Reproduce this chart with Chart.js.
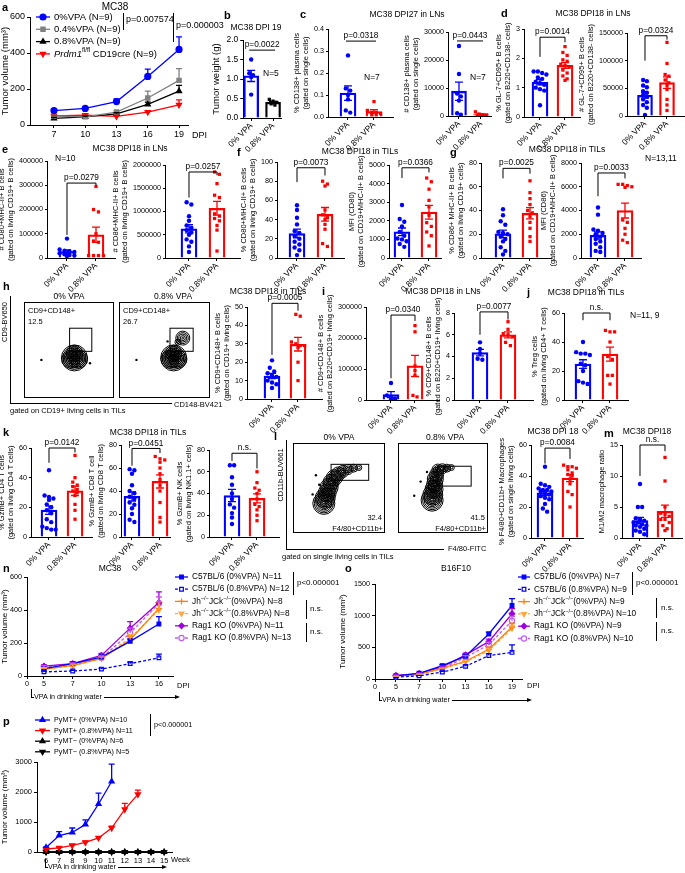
<!DOCTYPE html>
<html>
<head>
<meta charset="utf-8">
<script src="https://cdn.jsdelivr.net/npm/chart.js@4.4.1/dist/chart.umd.min.js"></script>
<style>
  body { margin: 0; background: #fff; }
  #page { position: relative; width: 685px; height: 873px; overflow: hidden; font-family: Arial, "Liberation Sans", Helvetica, sans-serif; color: #000; }
  .t { position: absolute; white-space: nowrap; line-height: 1; }
  canvas { position: absolute; }
  .ln { position: absolute; background: #000; }
  .box { position: absolute; border: 1px solid #000; box-sizing: border-box; }
</style>
</head>
<body>
<div id="page"></div>
<script>
// ---------- data ----------
const GROUPS = ['0% VPA', '0.8% VPA'];

// a: MC38 growth
const aDays = [7, 10, 13, 16, 19];
const aTicks = [0, 200, 400, 600];
const aVpa0 = [80, 92, 130, 270, 420], aVpa0Sem = [8, 8, 15, 40, 70];
const aVpa04 = [50, 45, 72, 150, 248], aVpa04Sem = [6, 6, 8, 38, 65];
const aVpa08 = [37, 45, 62, 115, 188], aVpa08Sem = [5, 5, 6, 12, 32];
const aPrdm1 = [50, 55, 48, 72, 112], aPrdm1Sem = [5, 6, 5, 8, 28];

// dot plots (0% VPA / 0.8% VPA)
const bWeight0 = [1.5, 1.15, 1.1, 1.05, 0.6];
const bWeight8 = [0.48, 0.43, 0.40, 0.36, 0.33];
const cPct0 = [0.28, 0.13, 0.12, 0.10, 0.08, 0.03, 0.02];
const cPct8 = [0.07, 0.03, 0.02, 0.02, 0.015, 0.01, 0.01];
const cNum0 = [25000, 15000, 8000, 7000, 5500, 1000, 500];
const cNum8 = [1500, 700, 500, 400, 300, 200, 100];
const dPct0 = [1.55, 1.55, 1.5, 1.45, 1.35, 1.3, 1.2, 1.15, 1.1, 1.0, 0.95, 0.9, 0.4];
const dPct8 = [2.4, 2.2, 2.1, 1.95, 1.9, 1.8, 1.75, 1.7, 1.6, 1.5, 1.4, 1.3, 1.25];
const dNum0 = [65000, 63000, 55000, 52000, 45000, 42000, 38000, 35000, 30000, 25000, 20000, 15000, 2000];
const dNum8 = [133000, 95000, 75000, 72000, 65000, 60000, 55000, 48000, 30000, 20000, 10000];
const eCd80_0 = [80000, 35000, 30000, 28000, 25000, 20000, 15000, 12000, 10000, 8000];
const eCd80_8 = [295000, 200000, 190000, 100000, 70000, 65000, 10000, 10000, 10000, 10000];
const eCd86_0 = [1200000, 1150000, 900000, 800000, 700000, 650000, 600000, 550000, 500000, 400000, 350000, 250000, 130000];
const eCd86_8 = [1850000, 1800000, 1600000, 1350000, 1300000, 950000, 900000, 850000, 800000, 700000, 600000, 150000];
const fPct0 = [55, 50, 42, 35, 28, 26, 23, 20, 17, 14, 11, 8, 3];
const fPct8 = [80, 77, 75, 50, 45, 42, 40, 35, 30, 15, 12];
const fMfi0 = [2850, 2100, 1950, 1700, 1400, 1200, 1050, 1000, 900, 750, 600];
const fMfi8 = [4300, 4100, 3700, 3100, 2750, 2300, 1900, 1700, 1400, 1200, 650];
const gPct0 = [41, 36, 31, 28, 22, 21, 20, 18, 16, 14, 9, 6, 3];
const gPct8 = [65, 55, 50, 45, 40, 38, 35, 30, 25, 18, 14];
const gMfi0 = [4250, 3650, 2400, 2300, 2100, 2000, 1800, 1600, 1400, 1200, 900, 600, 500];
const gMfi8 = [6200, 6200, 6100, 6000, 5950, 3200, 3000, 2500, 2000, 1500, 1300];
const hPct0 = [21, 17, 15, 14, 13, 12, 10, 9, 8, 6];
const hPct8 = [46, 45, 31, 30, 29, 29, 28, 20, 10];
const iNum0 = [55000, 15000, 10000, 5000, 2000];
const iNum8 = [240000, 220000, 110000, 95000, 80000, 15000, 10000];
const iPct0 = [5.3, 4.7, 4.3, 3.8, 3.7];
const iPct8 = [7.2, 6.5, 6.1, 6.0, 5.8, 5.3, 5.0];
const jTreg0 = [40, 33, 32, 32, 31, 25, 24, 20, 13, 12, 11];
const jTreg8 = [48, 47, 47, 40, 30, 28, 17, 17, 11];
const kCd4_0 = [45, 28, 27, 26, 25, 22, 20, 18, 16, 12, 10, 7, 6, 5, 5];
const kCd4_8 = [55, 40, 37, 35, 34, 32, 31, 30, 28, 22, 18, 12];
const kCd8_0 = [59, 58, 55, 45, 40, 38, 35, 33, 30, 28, 25, 20, 15, 13];
const kCd8_8 = [70, 68, 67, 65, 60, 55, 50, 45, 40, 30, 17, 13];
const kNk0 = [66, 66, 55, 48, 40, 35, 30, 27, 22, 18, 12];
const kNk8 = [60, 50, 45, 43, 40, 35, 30, 28, 25, 20, 15];
const lMac0 = [46, 35, 34, 33, 32, 31, 31, 30, 30, 29, 28, 27, 26, 25, 22, 19, 17];
const lMac8 = [47, 46, 46, 45, 44, 42, 41, 40, 38, 35, 30, 28, 20];
const mRatio0 = [8.7, 5, 5, 3.2, 3, 2.8, 2.5, 2.5, 2.2, 2, 2, 1.8, 1.5, 1.2, 1, 0.6];
const mRatio8 = [13, 9.2, 5, 4, 3.8, 3.5, 3, 3, 2.5, 2, 1.5, 1.2];

// n: MC38 in knockouts
const nDays = [5, 7, 10, 13, 16];
const nTicks = [0, 200, 400, 600];
const nB6_0 = [45, 75, 115, 210, 315], nB6_0Sem = [8, 10, 12, 15, 45];
const nB6_8 = [25, 30, 42, 75, 110], nB6_8Sem = [5, 5, 6, 10, 22];
const nJh_0 = [40, 65, 105, 220, 410], nJh_0Sem = [6, 8, 10, 20, 40];
const nJh_8 = [45, 60, 110, 230, 400], nJh_8Sem = [6, 8, 10, 20, 80];
const nRag_0 = [60, 75, 125, 290, 445], nRag_0Sem = [8, 8, 12, 40, 65];
const nRag_8 = [55, 70, 110, 260, 440], nRag_8Sem = [8, 8, 10, 30, 40];

// o: B16F10
const oDays = [5, 7, 10, 13, 16, 19];
const oTicks = [0, 500, 1000, 1500];
const oB6_0 = [50, 90, 210, 360, 710, 1160], oB6_0Sem = [8, 10, 20, 30, 30, 110];
const oB6_8 = [30, 50, 110, 200, 370, 420], oB6_8Sem = [5, 8, 12, 20, 30, 120];
const oJh_0 = [45, 75, 170, 280, 470, 820], oJh_0Sem = [6, 8, 15, 20, 30, 60];
const oJh_8 = [40, 70, 160, 270, 450, 800], oJh_8Sem = [6, 8, 15, 20, 30, 50];
const oRag_0 = [55, 85, 190, 380, 590, 1030], oRag_0Sem = [8, 10, 15, 30, 40, 80];
const oRag_8 = [50, 80, 170, 340, 540, 920], oRag_8Sem = [8, 10, 15, 30, 40, 70];

// p: PyMT
const pWeeks = [6, 7, 8, 9, 10, 11, 12, 13, 14, 15];
const pTicks = [0, 1000, 2000, 3000];
const pPos0 = [150, 550, 650, 920, 1600, 2350], pPos0Sem = [20, 130, 150, 150, 360, 580];
const pPos8 = [100, 140, 220, 320, 470, 800, 1420, 1920], pPos8Sem = [10, 20, 30, 40, 40, 60, 200, 140];
const pNeg0 = [0, 0, 0, 0, 0, 0, 0, 0, 0, 0];
const pNeg8 = [0, 0, 0, 0, 0, 0, 0, 0, 0, 0];

// flow contour blobs (x, y in % of plot, r = outer contour radius)
const hBlobs0 = [{ x: 59, y: 38, r: 13 }, { x: 53, y: 36, r: 9 }, { x: 66, y: 36, r: 9 }, { x: 59, y: 45, r: 8 }];
const hDots0 = [{ x: 85, y: 30 }, { x: 4, y: 35 }];
const hBlobs8 = [{ x: 65, y: 38, r: 13 }, { x: 59, y: 36, r: 9 }, { x: 72, y: 36, r: 9 }, { x: 65, y: 45, r: 8 }, { x: 80, y: 68, r: 7 }, { x: 72, y: 62, r: 3 }];
const hDots8 = [{ x: 55, y: 63 }, { x: 4, y: 35 }];
const lBlobs0 = [{ x: 27, y: 26, r: 11 }, { x: 29, y: 34, r: 10 }, { x: 32, y: 42, r: 9 }, { x: 35, y: 51, r: 9 }, { x: 38, y: 59, r: 8 }, { x: 43, y: 66, r: 8 }, { x: 49, y: 72, r: 7 }, { x: 56, y: 76, r: 6 }, { x: 64, y: 79, r: 5 }, { x: 72, y: 81, r: 4 }, { x: 80, y: 82, r: 3 }];
const lDots0 = [{ x: 10, y: 40 }, { x: 15, y: 70 }, { x: 20, y: 55 }];
const lBlobs8 = [{ x: 33, y: 31, r: 11 }, { x: 34, y: 39, r: 10 }, { x: 36, y: 48, r: 9 }, { x: 37, y: 56, r: 8 }, { x: 38, y: 64, r: 8 }, { x: 40, y: 71, r: 7 }, { x: 42, y: 78, r: 6 }, { x: 49, y: 80, r: 5 }, { x: 56, y: 81, r: 4 }, { x: 63, y: 82, r: 3 }];
const lDots8 = [{ x: 5, y: 38 }, { x: 15, y: 60 }, { x: 25, y: 75 }];

// ---------- setup ----------
const FONT = 'Arial, "Liberation Sans", Helvetica, sans-serif';
const BLUE = '#0000ff', RED = '#ff0000', BLACK = '#000000', GRAY = '#808080';
const ORANGE = '#ff8000', LORANGE = '#ffa640', PURPLE = '#a000e0', LPURPLE = '#c35cf5';
Chart.defaults.font.family = FONT;
Chart.defaults.font.size = 7.2;
Chart.defaults.color = '#000';
Chart.defaults.animation = false;
Chart.defaults.responsive = false;
Chart.defaults.plugins.legend.display = false;
Chart.defaults.plugins.tooltip.enabled = false;

const page = document.getElementById('page');
const mctx = document.createElement('canvas').getContext('2d');
function measure(s, size) { mctx.font = size + 'px ' + FONT; return mctx.measureText(s).width; }

function canvasAt(x, y, w, h) {
  const c = document.createElement('canvas');
  c.width = Math.round(w); c.height = Math.round(h);
  c.style.left = Math.round(x) + 'px'; c.style.top = Math.round(y) + 'px';
  page.appendChild(c);
  return c;
}
function txt(html, x, y, o = {}) {
  const d = document.createElement('div');
  d.className = 't';
  d.innerHTML = html;
  d.style.left = x + 'px'; d.style.top = y + 'px';
  d.style.fontSize = (o.size || 8.5) + 'px';
  if (o.bold) d.style.fontWeight = 'bold';
  const ax = o.anchor === 'c' ? '-50%' : o.anchor === 'r' ? '-100%' : '0';
  d.style.transform = `translate(${ax},-50%)` + (o.rot ? ` rotate(${o.rot}deg)` : '');
  page.appendChild(d);
}
function line(x, y, w, h) {
  const d = document.createElement('div');
  d.className = 'ln';
  Object.assign(d.style, { left: x + 'px', top: y + 'px', width: w + 'px', height: h + 'px' });
  page.appendChild(d);
}
function mean(a) { return a.reduce((s, v) => s + v, 0) / a.length; }
function sem(a) { const m = mean(a); return Math.sqrt(a.reduce((s, v) => s + (v - m) ** 2, 0) / (a.length - 1) / a.length); }

// spread dots with similar values sideways so they don't sit on top of each other
function spread(vals, g, span) {
  const tol = span * 0.04, pts = [];
  let row = [];
  const flush = () => { row.forEach((v, k) => pts.push({ x: g + (k - (row.length - 1) / 2) * 0.17, y: v })); row = []; };
  vals.slice().sort((a, b) => b - a).forEach(v => {
    if (row.length && (row[0] - v > tol || row.length >= 4)) flush();
    row.push(v);
  });
  flush();
  return pts;
}

function drawRich(ctx, parts, x, y, size) {
  ctx.textBaseline = 'middle'; ctx.textAlign = 'left';
  parts.forEach(pt => {
    const o = typeof pt === 'string' ? { t: pt } : pt;
    const fs = o.s ? size * 0.68 : size;
    ctx.font = (o.i ? 'italic ' : '') + fs + 'px ' + FONT;
    ctx.fillText(o.t, x, o.s ? y - size * 0.35 : y);
    x += ctx.measureText(o.t).width;
  });
}

// ---------- plugins ----------
const errorBars = {
  id: 'errorBars',
  afterDatasetsDraw(chart) {
    const ctx = chart.ctx, ys = chart.scales.y;
    chart.data.datasets.forEach((ds, i) => {
      if (!ds.sem) return;
      const meta = chart.getDatasetMeta(i);
      meta.data.forEach((el, j) => {
        const s = ds.sem[j];
        if (!s) return;
        const v = ds.data[j].y;
        const col = Array.isArray(ds.borderColor) ? ds.borderColor[j] : ds.borderColor;
        const yt = ys.getPixelForValue(v + s);
        const yb = ds.errDown ? ys.getPixelForValue(Math.max(v - s, 0)) : el.y;
        const cap = ds.cap || 3;
        ctx.save();
        ctx.strokeStyle = col; ctx.lineWidth = 1.3; ctx.setLineDash([]);
        ctx.beginPath();
        ctx.moveTo(el.x, yb); ctx.lineTo(el.x, yt);
        ctx.moveTo(el.x - cap, yt); ctx.lineTo(el.x + cap, yt);
        if (ds.errDown) { ctx.moveTo(el.x - cap, yb); ctx.lineTo(el.x + cap, yb); }
        ctx.stroke();
        ctx.restore();
      });
    });
  }
};

const bracket = {
  id: 'bracket',
  afterDraw(chart, args, o) {
    if (!o || o.text === undefined) return;
    const ctx = chart.ctx, xs = chart.scales.x, ys = chart.scales.y;
    const x0 = xs.getPixelForValue(0), x1 = xs.getPixelForValue(1), yb = ys.getPixelForValue(o.y);
    ctx.save();
    ctx.strokeStyle = '#000'; ctx.lineWidth = 1;
    ctx.beginPath();
    if (o.ends) {
      ctx.moveTo(x0, ys.getPixelForValue(o.ends[0])); ctx.lineTo(x0, yb);
      ctx.lineTo(x1, yb); ctx.lineTo(x1, ys.getPixelForValue(o.ends[1]));
    } else {
      ctx.moveTo(x0 - 2, yb); ctx.lineTo(x1 + 2, yb);
    }
    ctx.stroke();
    ctx.fillStyle = '#000';
    ctx.font = (o.size || 8.3) + 'px ' + FONT;
    ctx.textAlign = 'center'; ctx.textBaseline = 'bottom';
    ctx.fillText(o.text, (x0 + x1) / 2, yb - 1);
    ctx.restore();
  }
};

const lineLegend = {
  id: 'lineLegend',
  afterDraw(chart, args, o) {
    if (!o || o.x === undefined) return;
    const ctx = chart.ctx;
    chart.data.datasets.forEach((ds, i) => {
      const y = o.y + i * o.dy, x = o.x;
      ctx.save();
      ctx.strokeStyle = ds.borderColor; ctx.lineWidth = 1.3;
      ctx.setLineDash(ds.borderDash || []);
      ctx.beginPath(); ctx.moveTo(x, y); ctx.lineTo(x + o.len, y); ctx.stroke();
      ctx.setLineDash([]);
      ctx.fillStyle = ds.pointBackgroundColor; ctx.lineWidth = ds.pointBorderWidth;
      Chart.helpers.drawPoint(ctx, { pointStyle: ds.pointStyle, rotation: ds.pointRotation, radius: ds.pointRadius, borderWidth: ds.pointBorderWidth }, x + o.len / 2, y);
      ctx.fillStyle = '#000';
      drawRich(ctx, ds.parts, x + o.len + 4, y, o.size);
      ctx.restore();
    });
  }
};

const gatePlugin = {
  id: 'gate',
  afterDraw(chart, args, o) {
    if (!o || o.x0 === undefined) return;
    const xs = chart.scales.x, ys = chart.scales.y, ctx = chart.ctx;
    const x0 = xs.getPixelForValue(o.x0), x1 = xs.getPixelForValue(o.x1);
    const y0 = ys.getPixelForValue(o.y0), y1 = ys.getPixelForValue(o.y1);
    ctx.save(); ctx.strokeStyle = '#000'; ctx.lineWidth = 1;
    ctx.strokeRect(x0, y1, x1 - x0, y0 - y1);
    ctx.restore();
  }
};

const axisGrid = { drawOnChartArea: false, drawTicks: true, tickLength: 3, color: '#000', lineWidth: 1 };
const axisBorder = { color: '#000', width: 1 };

// ---------- builders ----------
function barPanel(p) {
  const TICK = p.tf || 7.2, TITLE = p.lf || 7.5, XLAB = 8.3;
  const unit = p.c1 - p.c0, side = (p.c0 - p.ax) / unit;
  const xmin = -side, xmax = 1 + side;
  const plotW = unit * (xmax - xmin), plotH = p.bot - p.top;
  const ymax = p.ticks[p.ticks.length - 1];
  const fmt = v => p.dec ? v.toFixed(p.dec) : String(v);
  const tickW = Math.max(...p.ticks.map(t => measure(fmt(t), TICK)));
  const L = p.ylab.length * TITLE * 1.2 + tickW + 9;
  const T = 34, B = 44, R = 10;
  const cv = canvasAt(p.ax - L, p.top - T, L + plotW + R, T + plotH + B);
  const cols = [BLUE, p.col1 || RED];
  new Chart(cv, {
    type: 'bar',
    data: {
      datasets: [
        { type: 'scatter', data: spread(p.d0, 0, ymax), pointStyle: 'circle', pointRadius: 2.2, backgroundColor: cols[0], borderWidth: 0, order: 0 },
        { type: 'scatter', data: spread(p.d1, 1, ymax), pointStyle: 'rect', pointRadius: 2.3, backgroundColor: cols[1], borderWidth: 0, order: 0 },
        {
          type: 'bar', data: [{ x: 0, y: mean(p.d0) }, { x: 1, y: mean(p.d1) }],
          sem: [sem(p.d0), sem(p.d1)], errDown: true, cap: 4,
          backgroundColor: 'rgba(255,255,255,0)', borderColor: cols, borderWidth: 1.6,
          barThickness: p.bw || 16, order: 1
        }
      ]
    },
    options: {
      devicePixelRatio: 1,
      layout: { padding: { top: T, right: R, left: 0, bottom: 0 } },
      scales: {
        x: {
          type: 'linear', min: xmin, max: xmax, offset: false,
          afterBuildTicks: s => { s.ticks = [{ value: 0 }, { value: 1 }]; },
          afterFit: s => { s.height = B; },
          ticks: { autoSkip: false, minRotation: 45, maxRotation: 45, padding: 0, font: { size: XLAB }, callback: v => GROUPS[v] },
          grid: { ...axisGrid, offset: false }, border: axisBorder
        },
        y: {
          min: 0, max: ymax,
          afterBuildTicks: s => { s.ticks = p.ticks.map(v => ({ value: v })); },
          afterFit: s => { s.width = L; },
          ticks: { autoSkip: false, padding: 2, font: { size: TICK }, callback: v => fmt(v) },
          title: { display: true, text: p.ylab, font: { size: TITLE }, padding: { top: 0, bottom: 1 } },
          grid: axisGrid, border: axisBorder
        }
      },
      plugins: { bracket: p.br }
    },
    plugins: [errorBars, bracket]
  });
}

function lineChart(p) {
  const cv = canvasAt(p.x, p.y, p.w, p.h);
  const L = p.ax - p.x, T = p.top - p.y, B = p.y + p.h - p.bot, R = p.x + p.w - p.right;
  new Chart(cv, {
    type: 'line',
    data: {
      datasets: p.sets.map(s => ({
        data: s.data.map((v, i) => ({ x: p.xs[i], y: v })),
        sem: s.sem, parts: s.parts,
        borderColor: s.color, backgroundColor: s.fill || s.color,
        pointBackgroundColor: s.fill || s.color, pointBorderColor: s.color,
        pointStyle: s.style, pointRotation: s.rot || 0, pointRadius: s.r || 3, pointBorderWidth: 1.2,
        borderWidth: 1.3, borderDash: s.dash ? [3, 2] : [], tension: 0, clip: false
      }))
    },
    options: {
      devicePixelRatio: 1,
      layout: { padding: { top: T, right: R, left: 0, bottom: 0 } },
      scales: {
        x: {
          type: 'linear', min: p.xmin, max: p.xmax, offset: false,
          afterBuildTicks: s => { s.ticks = p.xTicks.map(v => ({ value: v })); },
          afterFit: s => { s.height = B; },
          ticks: { autoSkip: false, minRotation: 0, maxRotation: 0, padding: 1, font: { size: p.tick }, callback: (v, i) => p.xLabels[i] },
          grid: axisGrid, border: axisBorder
        },
        y: {
          min: 0, max: p.yTicks[p.yTicks.length - 1],
          afterBuildTicks: s => { s.ticks = p.yTicks.map(v => ({ value: v })); },
          afterFit: s => { s.width = L; },
          ticks: { autoSkip: false, padding: 2, font: { size: p.tick }, callback: v => String(v) },
          title: { display: true, text: p.ylab, font: { size: p.lab }, padding: { top: 0, bottom: 2 } },
          grid: axisGrid, border: axisBorder
        }
      },
      plugins: { lineLegend: p.legend }
    },
    plugins: [errorBars, lineLegend]
  });
}

function flowPlot(p) {
  const box = document.createElement('div');
  box.className = 'box';
  Object.assign(box.style, { left: p.x + 'px', top: p.y + 'px', width: p.w + 'px', height: p.h + 'px' });
  page.appendChild(box);
  const cv = canvasAt(p.x + 1, p.y + 1, p.w - 2, p.h - 2);
  const rings = [];
  p.blobs.forEach(b => { for (let r = b.r; r >= 1; r -= 1.5) rings.push({ x: b.x, y: b.y, r }); });
  new Chart(cv, {
    type: 'bubble',
    data: {
      datasets: [
        { data: rings, backgroundColor: 'rgba(0,0,0,0)', borderColor: '#000', borderWidth: 1 },
        { data: p.dots.map(d => ({ x: d.x, y: d.y, r: 1.2 })), backgroundColor: '#000', borderWidth: 0 }
      ]
    },
    options: {
      devicePixelRatio: 1,
      layout: { padding: 0 },
      scales: { x: { display: false, min: 0, max: 100 }, y: { display: false, min: 0, max: 100 } },
      plugins: { gate: p.gate }
    },
    plugins: [gatePlugin]
  });
}

function vpaArrow(x, y, x2) {
  line(x, y - 8, 1, 8);
  line(x, y, 3, 1);
  txt('VPA in drinking water', x + 3, y, { size: 7.2 });
  const tw = measure('VPA in drinking water', 7.2);
  line(x + 5 + tw, y, x2 - (x + 5 + tw), 1);
  const a = document.createElement('div');
  Object.assign(a.style, { position: 'absolute', left: (x2 - 1) + 'px', top: (y - 2) + 'px', width: 0, height: 0, borderTop: '2.5px solid transparent', borderBottom: '2.5px solid transparent', borderLeft: '5px solid #000' });
  page.appendChild(a);
}

// ---------- panel a ----------
lineChart({
  x: 0, y: 0, w: 222, h: 145, ax: 30, top: 17, bot: 125, right: 188,
  xmin: 4.7, xmax: 19.86, xs: aDays, xTicks: aDays, xLabels: aDays.map(String),
  yTicks: aTicks, ylab: 'Tumor volume (mm³)', tick: 9, lab: 9.5,
  legend: { x: 36, y: 17, dy: 12.3, len: 14, size: 9.5 },
  sets: [
    { parts: ['0%VPA (N=9)'], data: aVpa0, sem: aVpa0Sem, color: BLUE, style: 'circle' },
    { parts: ['0.4%VPA (N=9)'], data: aVpa04, sem: aVpa04Sem, color: GRAY, style: 'rect' },
    { parts: ['0.8%VPA (N=9)'], data: aVpa08, sem: aVpa08Sem, color: BLACK, style: 'triangle' },
    { parts: [{ t: 'Prdm1', i: true }, { t: 'fl/fl', s: true }, ' CD19cre (N=9)'], data: aPrdm1, sem: aPrdm1Sem, color: RED, style: 'triangle', rot: 180 }
  ]
});
txt('DPI', 192, 135, { size: 9 });
line(123, 13, 1, 17); txt('p=0.007574', 126, 19, { size: 9 });
line(173, 13, 1, 29); txt('p=0.000003', 176, 25, { size: 9 });

// ---------- dot plots ----------
barPanel({ ax: 243, c0: 251, c1: 273, top: 40, bot: 118, ticks: [0, 0.5, 1, 1.5, 2], dec: 1, tf: 8.5, lf: 9.5, ylab: ['Tumor weight (g)'], d0: bWeight0, d1: bWeight8, col1: BLACK, bw: 15, br: { y: 1.74, text: 'p=0.0022' } });
barPanel({ ax: 329, c0: 348, c1: 374, top: 29, bot: 117, ticks: [0, 0.1, 0.2, 0.3, 0.4], dec: 1, ylab: ['% CD138+ plasma cells', '(gated on single cells)'], d0: cPct0, d1: cPct8, br: { y: 0.345, text: 'p=0.0318' } });
barPanel({ ax: 449, c0: 459, c1: 481, top: 32, bot: 116, ticks: [0, 10000, 20000, 30000], ylab: ['# CD138+ plasma cells', '(gated on single cells)'], d0: cNum0, d1: cNum8, bw: 15, br: { y: 26800, text: 'p=0.0443' } });
barPanel({ ax: 525, c0: 540, c1: 565, top: 29, bot: 117, ticks: [0, 1, 2, 3], ylab: ['% GL-7+CD95+ B cells', '(gated on B220+CD138- cells)'], d0: dPct0, d1: dPct8, br: { y: 2.72, ends: [2.05, 2.55], text: 'p=0.0014' } });
barPanel({ ax: 628, c0: 645, c1: 667, top: 33, bot: 116, ticks: [0, 50000, 100000, 150000], ylab: ['# GL-7+CD95+ B cells', '(gated on B220+CD138- cells)'], d0: dNum0, d1: dNum8, bw: 15, br: { y: 145000, ends: [100000, 138000], text: 'p=0.0324' } });
barPanel({ ax: 48, c0: 67, c1: 96, top: 161, bot: 258, ticks: [0, 100000, 200000, 300000, 400000], ylab: ['# CD80+MHC-II+ B cells', '(gated on living CD19+ B cells)'], d0: eCd80_0, d1: eCd80_8, br: { y: 309000, ends: [95000, 300000], text: 'p=0.0279' } });
barPanel({ ax: 166, c0: 189, c1: 217, top: 165, bot: 258, ticks: [0, 500000, 1000000, 1500000, 2000000], ylab: ['# CD86+MHC-II+ B cells', '(gated on living CD19+ B cells)'], d0: eCd86_0, d1: eCd86_8, br: { y: 1850000, ends: [1300000, 1780000], text: 'p=0.0257' } });
barPanel({ ax: 278, c0: 297, c1: 325, top: 162, bot: 258, ticks: [0, 20, 40, 60, 80, 100], ylab: ['% CD80+MHC-II+ B cells', '(gated on living CD19+ B cells)'], d0: fPct0, d1: fPct8, br: { y: 94, ends: [79, 86], text: 'p=0.0073' } });
barPanel({ ax: 390, c0: 402, c1: 429, top: 165, bot: 258, ticks: [0, 1000, 2000, 3000, 4000, 5000], ylab: ['MFI (CD80)', '(gated on CD19+MHC-II+ B cells)'], d0: fMfi0, d1: fMfi8, br: { y: 4850, ends: [4300, 4600], text: 'p=0.0366' } });
barPanel({ ax: 482, c0: 503, c1: 530, top: 163, bot: 258, ticks: [0, 20, 40, 60, 80], ylab: ['% CD86+ MHC-II+ B cells', '(gated on living CD19+ cells)'], d0: gPct0, d1: gPct8, br: { y: 75.5, ends: [67, 71], text: 'p=0.0025' } });
barPanel({ ax: 582, c0: 598, c1: 625, top: 163, bot: 258, ticks: [0, 2000, 4000, 6000, 8000], ylab: ['MFI (CD86)', '(gated on CD19+MHC-II+ B cells)'], d0: gMfi0, d1: gMfi8, br: { y: 7160, ends: [5200, 6700], text: 'p=0.0033' } });
barPanel({ ax: 248, c0: 272, c1: 298, top: 307, bot: 399, ticks: [0, 10, 20, 30, 40, 50], ylab: ['% CD9+CD148+ B cells', '(gated on CD19+ living cells)'], d0: hPct0, d1: hPct8, br: { y: 52, ends: [24, 48], text: 'p=0.0005' } });
barPanel({ ax: 367, c0: 391, c1: 415, top: 307, bot: 400, ticks: [0, 100000, 200000, 300000], ylab: ['# CD9+CD148+ B cells', '(gated on B220+CD19+ living cells)'], d0: iNum0, d1: iNum8, br: { y: 274000, ends: [70000, 255000], text: 'p=0.0340' } });
barPanel({ ax: 455, c0: 480, c1: 508, top: 313, bot: 400, ticks: [0, 2, 4, 6, 8], ylab: ['% CD9+CD148+ B cells', '(gated on B220+CD19+ living cells)'], d0: iPct0, d1: iPct8, br: { y: 8.1, ends: [6.0, 7.4], text: 'p=0.0077' } });
barPanel({ ax: 565, c0: 583, c1: 610, top: 313, bot: 400, ticks: [0, 20, 40, 60], ylab: ['% Treg cells', '(gated on living CD4+ T cells)'], d0: jTreg0, d1: jTreg8, br: { y: 60, ends: [55, 55], text: 'n.s.' } });
barPanel({ ax: 32, c0: 49, c1: 75, top: 448, bot: 537, ticks: [0, 20, 40, 60], ylab: ['% GzmB+ CD4 T cells', '(gated on living CD4 T cells)'], d0: kCd4_0, d1: kCd4_8, br: { y: 60, ends: [50, 57], text: 'p=0.0142' } });
barPanel({ ax: 122, c0: 132, c1: 160, top: 445, bot: 537, ticks: [0, 20, 40, 60, 80], ylab: ['% GzmB+ CD8 T cell', '(gated on living CD8 T cells)'], d0: kCd8_0, d1: kCd8_8, br: { y: 77, ends: [62, 73], text: 'p=0.0451' } });
barPanel({ ax: 210, c0: 232, c1: 257, top: 450, bot: 537, ticks: [0, 20, 40, 60, 80], ylab: ['% GzmB+ NK cells', '(gated on living NK1.1+ cells)'], d0: kNk0, d1: kNk8, br: { y: 77, ends: [70, 63], text: 'n.s.' } });
barPanel({ ax: 532, c0: 545, c1: 570, top: 445, bot: 538, ticks: [0, 20, 40, 60], ylab: ['% F4/80+CD11b+ Macrophages', '(gated on single living cells)'], d0: lMac0, d1: lMac8, br: { y: 58, ends: [48, 51], text: 'p=0.0084' } });
barPanel({ ax: 623, c0: 640, c1: 665, top: 445, bot: 538, ticks: [0, 5, 10, 15], ylab: ['M1/M2 macrophage ratio'], d0: mRatio0, d1: mRatio8, br: { y: 15, ends: [10, 14], text: 'n.s.' } });

// ---------- flow plots h ----------
line(10, 296, 1, 108); line(10, 403, 162, 1);
flowPlot({ x: 24, y: 302, w: 90, h: 96, blobs: hBlobs0, dots: hDots0, gate: { x0: 51, x1: 88, y0: 48, y1: 83 } });
flowPlot({ x: 119, y: 302, w: 91, h: 96, blobs: hBlobs8, dots: hDots8, gate: { x0: 59, x1: 97, y0: 48, y1: 83 } });
txt('0% VPA', 69, 296, { anchor: 'c' }); txt('0.8% VPA', 173, 296, { anchor: 'c' });
txt('CD9+CD148+', 28, 311, { size: 7.5 }); txt('12.5', 28, 322, { size: 7.5 });
txt('CD9+CD148+', 123, 311, { size: 7.5 }); txt('26.7', 123, 322, { size: 7.5 });
txt('CD9-BV650', 5, 322, { size: 7.5, anchor: 'c', rot: -90 });
txt('CD148-BV421', 174, 405, { size: 7.5 });
txt('gated on CD19+ living cells in TILs', 10, 411, { size: 7.5 });

// ---------- flow plots l ----------
line(286, 440, 1, 110); line(286, 549, 158, 1);
flowPlot({ x: 293, y: 443, w: 92, h: 90, blobs: lBlobs0, dots: lDots0, gate: { x0: 38, x1: 95, y0: 62, y1: 87 } });
flowPlot({ x: 398, y: 443, w: 90, h: 90, blobs: lBlobs8, dots: lDots8, gate: { x0: 41, x1: 94, y0: 53, y1: 84 } });
txt('0% VPA', 339, 437, { anchor: 'c' }); txt('0.8% VPA', 445, 437, { anchor: 'c' });
txt('32.4', 382, 518, { size: 7.5, anchor: 'r' }); txt('F4/80+CD11b+', 383, 529, { size: 7.5, anchor: 'r' });
txt('41.5', 485, 518, { size: 7.5, anchor: 'r' }); txt('F4/80+CD11b+', 486, 529, { size: 7.5, anchor: 'r' });
txt('CD11b-BUV661', 281, 475, { size: 7.5, anchor: 'c', rot: -90 });
txt('F4/80-FITC', 448, 549, { size: 7.5 });
txt('gated on single living cells in TILs', 282, 557, { size: 7.5 });

// ---------- panel n ----------
const SUPM = { t: '−/−', s: true };
lineChart({
  x: 0, y: 565, w: 300, h: 125, ax: 27, top: 577, bot: 676, right: 173,
  xmin: -0.59, xmax: 4.49, xs: nDays.map((d, i) => i), xTicks: [-0.59, 0, 1, 2, 3, 4], xLabels: ['0', ...nDays.map(String)],
  yTicks: nTicks, ylab: 'Tumor volume (mm³)', tick: 7.2, lab: 8,
  legend: { x: 175, y: 12, dy: 12.2, len: 13, size: 8.3 },
  sets: [
    { parts: ['C57BL/6 (0%VPA) N=11'], data: nB6_0, sem: nB6_0Sem, color: BLUE, style: 'rect', r: 2.6 },
    { parts: ['C57BL/6 (0.8%VPA) N=12'], data: nB6_8, sem: nB6_8Sem, color: BLUE, fill: '#fff', style: 'rect', r: 2.6, dash: true },
    { parts: ['Jh', SUPM, 'JCk', SUPM, '(0%VPA) N=8'], data: nJh_0, sem: nJh_0Sem, color: ORANGE, style: 'cross', r: 3 },
    { parts: ['Jh', SUPM, 'JCk', SUPM, '(0.8%VPA) N=8'], data: nJh_8, sem: nJh_8Sem, color: LORANGE, style: 'triangle', rot: 180, r: 2.8, dash: true },
    { parts: ['Rag1 KO (0%VPA) N=11'], data: nRag_0, sem: nRag_0Sem, color: PURPLE, style: 'rectRot', r: 2.8 },
    { parts: ['Rag1 KO (0.8%VPA) N=13'], data: nRag_8, sem: nRag_8Sem, color: LPURPLE, fill: '#fff', style: 'circle', r: 2.6, dash: true }
  ]
});
txt('DPI', 177, 686, { size: 7.5 });
vpaArrow(31, 697, 176);
line(293, 572, 1, 23); txt('p&lt;0.000001', 297, 583, { size: 8 });
line(306, 600, 1, 19); txt('n.s.', 310, 609, { size: 8 });
line(306, 623, 1, 19); txt('n.s.', 310, 632, { size: 8 });

// ---------- panel o ----------
lineChart({
  x: 338, y: 565, w: 347, h: 125, ax: 375, top: 584, bot: 679, right: 522,
  xmin: -0.9, xmax: 5.43, xs: oDays.map((d, i) => i), xTicks: [-0.9, 0, 1, 2, 3, 4, 5], xLabels: ['0', ...oDays.map(String)],
  yTicks: oTicks, ylab: 'Tumor volume (mm³)', tick: 7.2, lab: 8,
  legend: { x: 180, y: 12, dy: 12.3, len: 12, size: 8.3 },
  sets: [
    { parts: ['C57BL/6 (0%VPA) N=7'], data: oB6_0, sem: oB6_0Sem, color: BLUE, style: 'rect', r: 2.6 },
    { parts: ['C57BL/6 (0.8%VPA) N=9'], data: oB6_8, sem: oB6_8Sem, color: BLUE, fill: '#fff', style: 'rect', r: 2.6, dash: true },
    { parts: ['Jh', SUPM, 'JCk', SUPM, '(0%VPA) N=9'], data: oJh_0, sem: oJh_0Sem, color: ORANGE, style: 'cross', r: 3 },
    { parts: ['Jh', SUPM, 'JCk', SUPM, '(0.8%VPA) N=10'], data: oJh_8, sem: oJh_8Sem, color: LORANGE, style: 'triangle', rot: 180, r: 2.8, dash: true },
    { parts: ['Rag1 KO (0%VPA) N=9'], data: oRag_0, sem: oRag_0Sem, color: PURPLE, style: 'rectRot', r: 2.8 },
    { parts: ['Rag1 KO (0.8%VPA) N=10'], data: oRag_8, sem: oRag_8Sem, color: LPURPLE, fill: '#fff', style: 'circle', r: 2.6, dash: true }
  ]
});
txt('DPI', 527, 686, { size: 7.5 });
vpaArrow(379, 700, 528);
line(632, 572, 1, 23); txt('p&lt;0.000001', 636, 583, { size: 8 });
line(656, 598, 1, 20); txt('n.s.', 661, 608, { size: 8 });
line(656, 622, 1, 19); txt('n.s.', 661, 631, { size: 8 });

// ---------- panel p ----------
lineChart({
  x: 0, y: 712, w: 200, h: 152, ax: 37, top: 762, bot: 852, right: 172,
  xmin: -0.69, xmax: 9.6, xs: pWeeks.map((w, i) => i), xTicks: pWeeks.map((w, i) => i), xLabels: pWeeks.map(String),
  yTicks: pTicks, ylab: 'Tumor volume (mm³)', tick: 7.5, lab: 8,
  legend: { x: 35, y: 8, dy: 10.6, len: 15, size: 7.2 },
  sets: [
    { parts: ['PyMT+ (0%VPA) N=10'], data: pPos0, sem: pPos0Sem, color: BLUE, style: 'triangle', r: 3 },
    { parts: ['PyMT+ (0.8%VPA) N=11'], data: pPos8, sem: pPos8Sem, color: RED, style: 'triangle', rot: 180, r: 3 },
    { parts: ['PyMT− (0%VPA) N=6'], data: pNeg0, color: BLACK, style: 'triangle', r: 3 },
    { parts: ['PyMT− (0.8%VPA) N=5'], data: pNeg8, color: BLACK, style: 'triangle', rot: 180, r: 3 }
  ]
});
txt('Week', 171, 860, { size: 7.5 });
vpaArrow(45, 867, 163);
line(150, 714, 1, 22); txt('p&lt;0.000001', 154, 725, { size: 7.2 });

// ---------- titles, letters, notes ----------
const letters = [['a', 2, 7], ['b', 224, 15], ['c', 300, 14], ['d', 501, 13], ['e', 2, 149], ['f', 237, 152], ['g', 450, 152], ['h', 3, 286], ['i', 322, 291], ['j', 527, 292], ['k', 3, 432], ['l', 274, 436], ['m', 604, 433], ['n', 3, 568], ['o', 345, 568], ['p', 3, 721]];
letters.forEach(([s, x, y]) => txt(s, x, y, { size: 11, bold: true }));

txt('MC38', 115, 7, { anchor: 'c', size: 10 });
txt('MC38 DPI 19', 256, 27, { anchor: 'c' });
txt('MC38 DPI27 in LNs', 407, 14, { anchor: 'c' });
txt('MC38 DPI18 in LNs', 593, 13, { anchor: 'c' });
txt('MC38 DPI18 in LNs', 130, 148, { anchor: 'c' });
txt('MC38 DPI18 in TILs', 360, 151, { anchor: 'c' });
txt('MC38 DPI18 in TILs', 567, 149, { anchor: 'c' });
txt('MC38 DPI18 in TILs', 268, 291, { anchor: 'c' });
txt('MC38 DPI18 in LNs', 443, 291, { anchor: 'c' });
txt('MC38 DPI18 in TILs', 586, 292, { anchor: 'c' });
txt('MC38 DPI18 in TILs', 148, 432, { anchor: 'c' });
txt('MC38 DPI 18', 553, 431, { anchor: 'c' });
txt('MC38 DPI18', 647, 431, { anchor: 'c' });
txt('MC38', 110, 568, { anchor: 'c' });
txt('B16F10', 456, 568, { anchor: 'c' });

txt('N=5', 263, 73, { size: 8.5 });
txt('N=7', 364, 77, { size: 8.5 });
txt('N=7', 470, 77, { size: 8.5 });
txt('N=10', 55, 158, { size: 8.5 });
txt('N=13,11', 645, 158, { size: 8.5 });
txt('N=11, 9', 630, 315, { size: 8.5 });
</script>
</body>
</html>
